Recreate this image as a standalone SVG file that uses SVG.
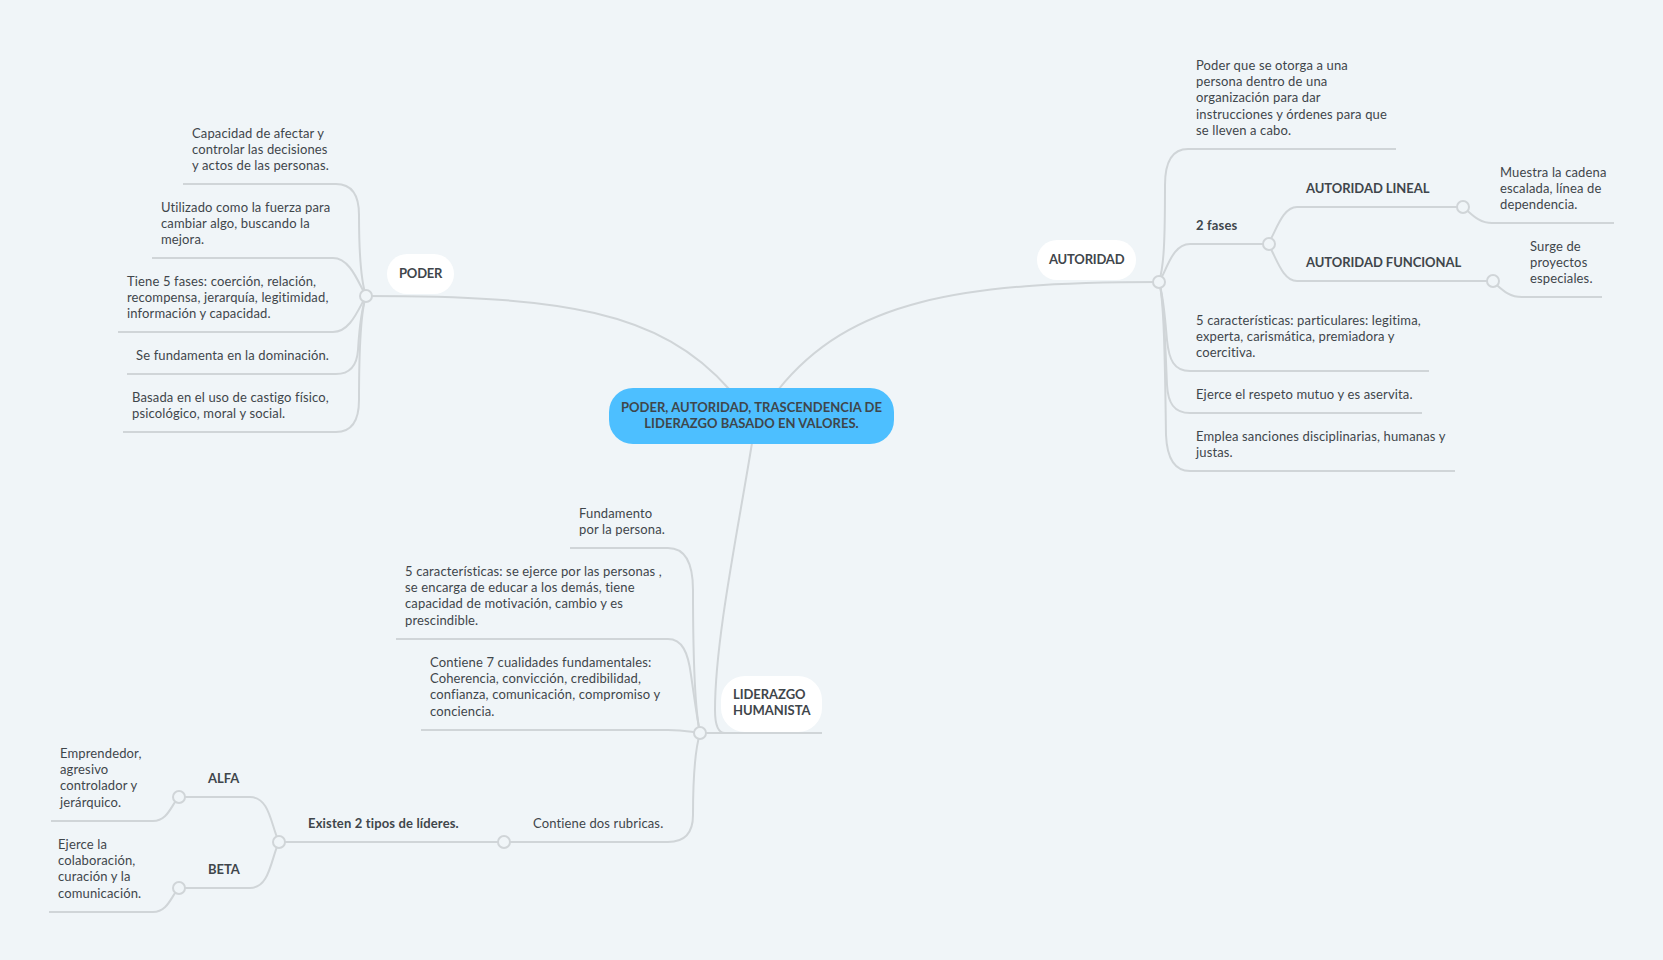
<svg xmlns="http://www.w3.org/2000/svg" width="1663" height="960" viewBox="0 0 1663 960">
<style>
text{font-family:"Lato","Noto Sans",sans-serif;font-size:13px;fill:#3f464b;letter-spacing:.14px}
.b{font-weight:700;letter-spacing:.15px}
.u{font-weight:700;letter-spacing:-.05px}
.r{font-weight:700;letter-spacing:.03px}
.n{font-weight:700;letter-spacing:-.2px}
.c{fill:none;stroke:#d0d5d8;stroke-width:2}
.h{fill:#f0f5f8;stroke:#d0d5d8;stroke-width:2}
.p{fill:#fff}
</style>
<rect width="1663" height="960" fill="#f0f5f8"/>
<g id="connectors">
<path class="c" d="M730 390C660 310 560 296 366 296"/>
<path class="c" d="M778 390C850 300 960 282 1159 282"/>
<path class="c" d="M752 443C738 530 715 640 715 710Q715 733 725 733"/>
<path class="c" d="M366 296C360 278 359 250 359 215C359 195 352 184 336 184H183"/>
<path class="c" d="M366 296C358 282 350 258 333 258H152"/>
<path class="c" d="M366 296C358 310 350 332 333 332H118"/>
<path class="c" d="M366 296C360 314 359 335 358 350C357 365 350 374 336 374H127"/>
<path class="c" d="M366 296C360 314 359 360 359 400C359 420 352 432 336 432H123"/>
<path class="c" d="M1159 282C1164 266 1165 240 1165 185C1165 162 1172 149 1188 149H1396"/>
<path class="c" d="M1159 282C1167 270 1172 244 1190 244H1268"/>
<path class="c" d="M1159 282C1164 298 1165 320 1167 340C1169 360 1174 371 1190 371H1429"/>
<path class="c" d="M1159 282C1164 298 1165 340 1167 385C1168 403 1174 413 1190 413H1422"/>
<path class="c" d="M1159 282C1164 298 1165 360 1166 435C1167 458 1174 471 1190 471H1455"/>
<path class="c" d="M1268 244C1276 232 1282 207 1297 207H1463"/>
<path class="c" d="M1268 244C1276 256 1282 281 1297 281H1492"/>
<path class="c" d="M1463 207C1471 213 1478 223 1492 223H1614"/>
<path class="c" d="M1492 281C1500 287 1507 297 1522 297H1602"/>
<path class="c" d="M700 733C695 710 693 670 693 590C693 565 686 548 668 548H570"/>
<path class="c" d="M700 733C696 712 694 695 691 675C688 652 682 639 668 639H396"/>
<path class="c" d="M700 733C690 732 685 730 668 730H421"/>
<path class="c" d="M700 733C695 750 693 775 693 815C693 832 686 842 668 842H504"/>
<path class="c" d="M700 733H822"/>
<path class="c" d="M504 842H279"/>
<path class="c" d="M279 842C271 826 270 797 250 797H179"/>
<path class="c" d="M279 842C271 858 270 888 250 888H179"/>
<path class="c" d="M179 797C171 805 168 821 153 821H51"/>
<path class="c" d="M179 888C171 896 168 912 153 912H49"/>
<g id="hubs">
<circle class="h" cx="366" cy="296" r="6"/><circle class="h" cx="1159" cy="282" r="6"/><circle class="h" cx="1269" cy="244" r="6"/><circle class="h" cx="1463" cy="207" r="6"/><circle class="h" cx="1493" cy="281" r="6"/><circle class="h" cx="700" cy="733" r="6"/><circle class="h" cx="504" cy="842" r="6"/><circle class="h" cx="279" cy="842" r="6"/><circle class="h" cx="179" cy="797" r="6"/><circle class="h" cx="179" cy="888" r="6"/>
</g>
</g>
<g id="root"><rect x="609" y="388" width="285" height="56" rx="24" fill="#4dbfff"/><text class="r" text-anchor="middle" x="751.500" y="412">PODER, AUTORIDAD, TRASCENDENCIA DE</text><text class="r" text-anchor="middle" x="751.500" y="428">LIDERAZGO BASADO EN VALORES.</text></g>
<g id="poder"><rect class="p" x="387" y="254" width="67" height="40" rx="20"/><text class="n" x="399" y="278">PODER</text></g>
<g id="autoridad"><rect class="p" x="1037" y="240" width="99" height="40" rx="20"/><text class="n" x="1049" y="264">AUTORIDAD</text></g>
<g id="liderazgo"><rect class="p" x="721" y="676" width="101" height="56" rx="24"/><text class="u" x="733" y="699">LIDERAZGO</text><text class="u" x="733" y="715">HUMANISTA</text></g>
<g id="p1"><text x="192" y="138">Capacidad de afectar y</text><text x="192" y="154">controlar las decisiones</text><text x="192" y="170">y actos de las personas.</text></g>
<g id="p2"><text x="161" y="212">Utilizado como la fuerza para</text><text x="161" y="228">cambiar algo, buscando la</text><text x="161" y="244">mejora.</text></g>
<g id="p3"><text x="127" y="286">Tiene 5 fases: coerción, relación,</text><text x="127" y="302">recompensa, jerarquía, legitimidad,</text><text x="127" y="318">información y capacidad.</text></g>
<g id="p4"><text x="136" y="360">Se fundamenta en la dominación.</text></g>
<g id="p5"><text x="132" y="402">Basada en el uso de castigo físico,</text><text x="132" y="418">psicológico, moral y social.</text></g>
<g id="a1"><text x="1196" y="70">Poder que se otorga a una</text><text x="1196" y="86">persona dentro de una</text><text x="1196" y="102">organización para dar</text><text x="1196" y="119">instrucciones y órdenes para que</text><text x="1196" y="135">se lleven a cabo.</text></g>
<g id="a2"><text class="b" x="1196" y="230">2 fases</text></g>
<g id="a21"><text class="u" x="1306" y="193">AUTORIDAD LINEAL</text></g>
<g id="a211"><text x="1500" y="177">Muestra la cadena</text><text x="1500" y="193">escalada, línea de</text><text x="1500" y="209">dependencia.</text></g>
<g id="a22"><text class="u" x="1306" y="267">AUTORIDAD FUNCIONAL</text></g>
<g id="a221"><text x="1530" y="251">Surge de</text><text x="1530" y="267">proyectos</text><text x="1530" y="283">especiales.</text></g>
<g id="a3"><text x="1196" y="325">5 características: particulares: legitima,</text><text x="1196" y="341">experta, carismática, premiadora y</text><text x="1196" y="357">coercitiva.</text></g>
<g id="a4"><text x="1196" y="399">Ejerce el respeto mutuo y es aservita.</text></g>
<g id="a5"><text x="1196" y="441">Emplea sanciones disciplinarias, humanas y</text><text x="1196" y="457">justas.</text></g>
<g id="l1"><text x="579" y="518">Fundamento</text><text x="579" y="534">por la persona.</text></g>
<g id="l2"><text x="405" y="576">5 características: se ejerce por las personas ,</text><text x="405" y="592">se encarga de educar a los demás, tiene</text><text x="405" y="608">capacidad de motivación, cambio y es</text><text x="405" y="625">prescindible.</text></g>
<g id="l3"><text x="430" y="667">Contiene 7 cualidades fundamentales:</text><text x="430" y="683">Coherencia, convicción, credibilidad,</text><text x="430" y="699">confianza, comunicación, compromiso y</text><text x="430" y="716">conciencia.</text></g>
<g id="l4"><text x="533" y="828">Contiene dos rubricas.</text></g>
<g id="l41"><text class="b" x="308" y="828">Existen 2 tipos de líderes.</text></g>
<g id="alfa"><text class="u" x="208" y="783">ALFA</text></g>
<g id="alfa1"><text x="60" y="758">Emprendedor,</text><text x="60" y="774">agresivo</text><text x="60" y="790">controlador y</text><text x="60" y="807">jerárquico.</text></g>
<g id="beta"><text class="u" x="208" y="874">BETA</text></g>
<g id="beta1"><text x="58" y="849">Ejerce la</text><text x="58" y="865">colaboración,</text><text x="58" y="881">curación y la</text><text x="58" y="898">comunicación.</text></g>
</svg>
